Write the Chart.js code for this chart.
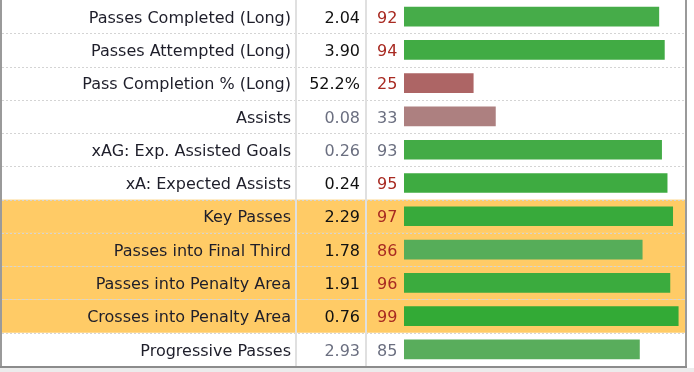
<!DOCTYPE html>
<html>
<head>
<meta charset="utf-8">
<script src="https://cdn.jsdelivr.net/npm/chart.js@4/dist/chart.umd.min.js"></script>
<style>
  html, body { margin: 0; padding: 0; background: #fff; }
  #report { display: block; }
</style>
</head>
<body>
<canvas id="report" width="694" height="372"></canvas>
<script>
// scouting report rows
let statLabels = [
  "Passes Completed (Long)",
  "Passes Attempted (Long)",
  "Pass Completion % (Long)",
  "Assists",
  "xAG: Exp. Assisted Goals",
  "xA: Expected Assists",
  "Key Passes",
  "Passes into Final Third",
  "Passes into Penalty Area",
  "Crosses into Penalty Area",
  "Progressive Passes",
];
let per90Values = ["2.04", "3.90", "52.2%", "0.08", "0.26", "0.24", "2.29", "1.78", "1.91", "0.76", "2.93"];
let percentiles = [92, 94, 25, 33, 93, 95, 97, 86, 96, 99, 85];

// rows shaded orange / rows printed in grey
let highlightRows = [6, 7, 8, 9];
let mutedRows = [3, 4, 10];

let FONT = '"DejaVu Sans", Verdana, sans-serif';

let mix = function (a, b, t) {
  t = Math.max(0, Math.min(1, t));
  return a.map(function (v, i) {
    return Math.round(v + (b[i] - v) * t);
  });
};

let barColor = function (p) {
  let c;
  if (p >= 50) {
    c = mix([89, 173, 92], [51, 170, 54], (p - 85) / 14);
  } else {
    c = mix([173, 101, 101], [173, 128, 128], (p - 25) / 8);
  }
  return "rgb(" + c.join(",") + ")";
};

let tablePlugin = {
  id: "table",
  beforeDraw: function (chart) {
    let ctx = chart.ctx;
    let y = chart.scales.y;
    let W = chart.width;
    let rowH = y.getPixelForValue(1) - y.getPixelForValue(0);
    ctx.save();
    ctx.fillStyle = "#fff";
    ctx.fillRect(0, 0, W, chart.height);

    highlightRows.forEach(function (i) {
      let c = y.getPixelForValue(i);
      ctx.fillStyle = "#ffcb66";
      ctx.fillRect(2, c - rowH / 2, 683, rowH);
    });

    // dotted row separators
    ctx.strokeStyle = "#d4d4d4";
    ctx.lineWidth = 1;
    ctx.setLineDash([2, 2]);
    for (let i = 1; i < statLabels.length; i++) {
      let yy = Math.round(y.getPixelForValue(i) - rowH / 2) + 0.5;
      ctx.beginPath();
      ctx.moveTo(2, yy);
      ctx.lineTo(685, yy);
      ctx.stroke();
    }
    ctx.setLineDash([]);

    // column dividers
    ctx.fillStyle = "#e0e0e0";
    ctx.fillRect(295, 0, 2, y.bottom);
    ctx.fillRect(365, 0, 2, y.bottom);

    // outer borders
    ctx.fillStyle = "#9a9a9a";
    ctx.fillRect(0, 0, 2, y.bottom + 3);
    ctx.fillRect(685, 0, 2, y.bottom + 3);
    ctx.fillStyle = "#8c8c8c";
    ctx.fillRect(0, y.bottom, 687, 2);
    ctx.fillStyle = "#ececec";
    ctx.fillRect(0, y.bottom + 2, W, chart.height - y.bottom - 2);
    ctx.restore();
  },
  afterDatasetsDraw: function (chart) {
    let ctx = chart.ctx;
    let y = chart.scales.y;
    ctx.save();
    ctx.font = "16px " + FONT;
    ctx.textBaseline = "middle";
    statLabels.forEach(function (label, i) {
      let c = y.getPixelForValue(i);
      let muted = mutedRows.indexOf(i) >= 0;
      ctx.textAlign = "right";
      ctx.fillStyle = muted ? "#6b6f80" : "#111";
      ctx.fillText(per90Values[i], 360, c + 2);
      ctx.textAlign = "left";
      ctx.fillStyle = muted ? "#6b6f80" : "#a82a22";
      ctx.fillText(String(percentiles[i]), 377, c + 2);
    });
    ctx.restore();
  },
};

new Chart(document.getElementById("report").getContext("2d"), {
  type: "bar",
  data: {
    labels: statLabels,
    datasets: [
      {
        data: percentiles,
        backgroundColor: percentiles.map(barColor),
        barThickness: 19,
      },
    ],
  },
  options: {
    indexAxis: "y",
    responsive: false,
    animation: false,
    devicePixelRatio: 1,
    layout: { padding: { top: 0, bottom: 6, left: 0, right: 13 } },
    plugins: {
      legend: { display: false },
      tooltip: { enabled: false },
    },
    scales: {
      x: { min: 0, max: 100, display: false },
      y: {
        grid: { display: false, drawTicks: false },
        border: { display: false },
        ticks: {
          color: "#1e1e2a",
          padding: 113,
          labelOffset: 2,
          font: { family: FONT, size: 16 },
        },
        afterFit: function (scale) {
          scale.width = 404;
          scale.paddingTop = 0;
          scale.paddingBottom = 0;
        },
      },
    },
  },
  plugins: [tablePlugin],
});
</script>
</body>
</html>
